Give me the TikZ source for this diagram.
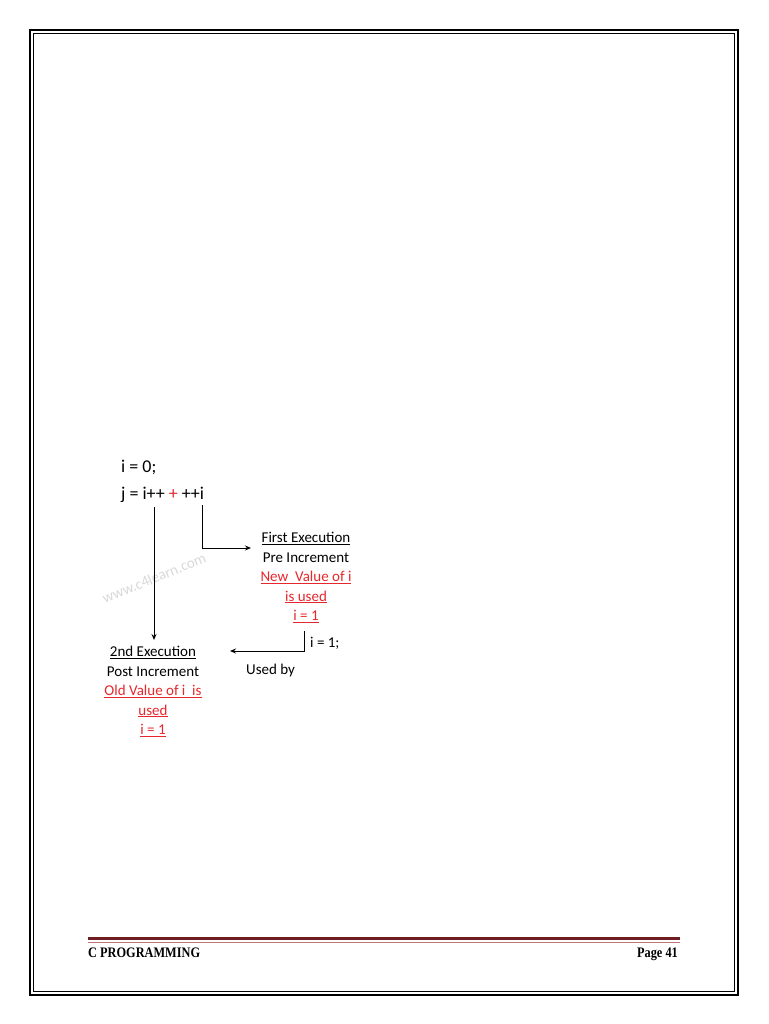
\documentclass[tikz,border=0pt]{standalone}
\usepackage{fontspec}
\setmainfont{Carlito}
\newfontfamily\footfont{Liberation Serif}
\usetikzlibrary{arrows.meta}
\definecolor{rd}{RGB}{230,40,45}
\definecolor{maroon}{RGB}{110,30,35}
\definecolor{pinkline}{RGB}{190,120,120}
\begin{document}
\begin{tikzpicture}[x=1pt,y=-1pt,
  lbl/.style={inner sep=0pt,font=\fontsize{15}{19.5}\selectfont,align=center},
  code/.style={inner sep=0pt,anchor=west,font=\fontsize{18}{22}\selectfont},
  arr/.style={-{Stealth[length=6pt,width=5pt]},line width=1pt},
  ft/.style={inner sep=0pt,anchor=base,font=\footfont\fontsize{14.5}{16}\selectfont\bfseries}]
\useasboundingbox (0,0) rectangle (768,1024);
\fill[white] (0,0) rectangle (768,1024);
\draw[line width=1.6pt] (30,30) rectangle (738,995);
\draw[line width=0.5pt] (33.5,33.5) rectangle (734.5,991.5);
% footer
\draw[maroon,line width=3pt] (88,938) -- (680,938);
\draw[pinkline,line width=0.8pt] (88,942.5) -- (680,942.5);
\node[ft,anchor=base west,xscale=0.85] (ftx) at (88,957) {C PROGRAMMING};
\node[ft,anchor=base east,xscale=0.85] (pg) at (678,957) {Page 41};
% watermark
\node[rotate=22,text=black!15,inner sep=0pt,font=\fontsize{15}{17}\selectfont] (wm) at (154,578) {www.c4learn.com};
% code
\node[code] (c1) at (121,467) {i = 0;};
\node[code] (c2) at (121,495) {j = i++ \textcolor{rd}{+} ++i};
\coordinate (a1) at (154,507);
\coordinate (a1e) at (154,640);
\coordinate (b1) at (202,505);
\coordinate (b2) at (202,548);
\coordinate (b3) at (251,548);
\draw[arr] (a1) -- (a1e);
\draw[arr] (b1) -- (b2) -- (b3);
% first execution
\node[lbl,anchor=north] (fe) at (306,532) {\underline{First Execution}\\
Pre Increment\\
\textcolor{rd}{\underline{New\ \ Value of i}}\\
\textcolor{rd}{\underline{is used}}\\
\textcolor{rd}{\underline{i = 1}}};
\coordinate (d1) at (304,631);
\coordinate (d2) at (304,651);
\coordinate (d3) at (230,651);
\draw[arr] (d1) -- (d2) -- (d3);
\node[lbl,anchor=west] (i1) at (310,643) {i = 1;};
\node[lbl,anchor=west] (ub) at (246,670) {Used by};
% second execution
\node[lbl,anchor=north] (se) at (153,646) {\underline{2nd Execution}\\
Post Increment\\
\textcolor{rd}{\underline{Old Value of i\ \ is}}\\
\textcolor{rd}{\underline{used}}\\
\textcolor{rd}{\underline{i = 1}}};
\end{tikzpicture}
\end{document}
